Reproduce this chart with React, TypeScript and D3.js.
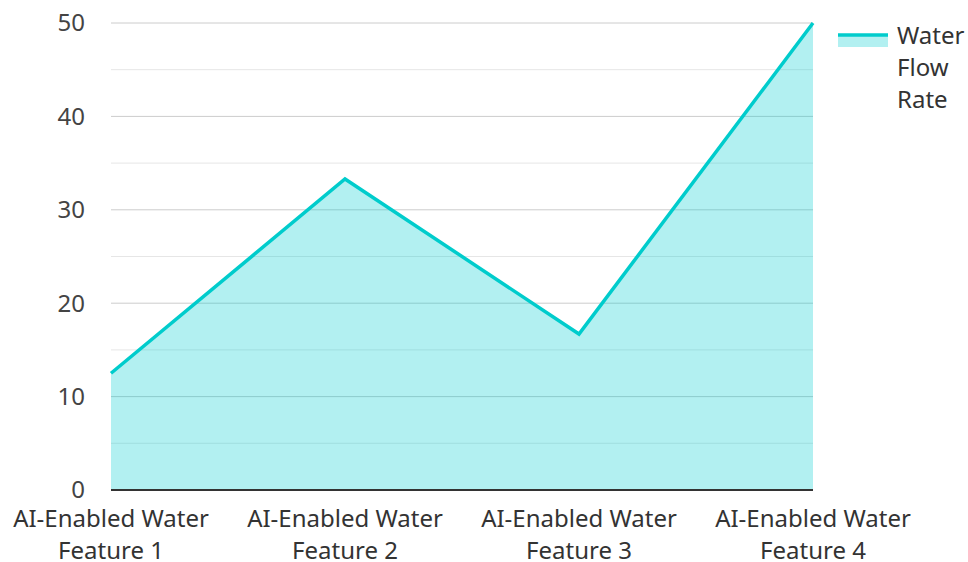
import { useEffect, useRef } from 'react';
import * as d3 from 'd3';

const categories = [
  'AI-Enabled Water Feature 1',
  'AI-Enabled Water Feature 2',
  'AI-Enabled Water Feature 3',
  'AI-Enabled Water Feature 4',
];
const flowRate = [12.5, 33.3, 16.7, 50];
const yTicks = [0, 10, 20, 30, 40, 50];
const yMinorTicks = [5, 15, 25, 35, 45];
const seriesName = 'Water Flow Rate';

const LINE = '#00cccc';
const FILL = 'rgba(0, 206, 209, 0.3)';
const FONT = '"Noto Sans", "Open Sans", sans-serif';

export default function App() {
  const svgRef = useRef<SVGSVGElement>(null);

  useEffect(() => {
    if (!svgRef.current) return;
    const width = 968;
    const height = 562;
    const margin = { top: 23, right: 155, bottom: 72, left: 111 };
    const innerW = width - margin.left - margin.right;
    const innerH = height - margin.top - margin.bottom;

    d3.select(svgRef.current).selectAll('*').remove();
    const svg = d3.select(svgRef.current)
      .attr('width', width)
      .attr('height', height)
      .style('font-family', FONT);

    const g = svg.append('g')
      .attr('transform', `translate(${margin.left},${margin.top})`);

    const x = d3.scalePoint<string>()
      .domain(categories)
      .range([0, innerW])
      .padding(0);

    const y = d3.scaleLinear()
      .domain([0, 50])
      .range([innerH, 0]);

    // Grid
    g.selectAll('.minor')
      .data(yMinorTicks)
      .join('line')
      .attr('x1', 0)
      .attr('x2', innerW)
      .attr('y1', d => y(d))
      .attr('y2', d => y(d))
      .attr('stroke', '#e6e6e6')
      .attr('stroke-width', 1);

    g.selectAll('.major')
      .data(yTicks.filter(t => t !== 0))
      .join('line')
      .attr('x1', 0)
      .attr('x2', innerW)
      .attr('y1', d => y(d))
      .attr('y2', d => y(d))
      .attr('stroke', '#cccccc')
      .attr('stroke-width', 1);

    const data = categories.map((c, i) => ({ c, v: flowRate[i] }));

    const area = d3.area<{ c: string; v: number }>()
      .x(d => x(d.c) as number)
      .y0(y(0))
      .y1(d => y(d.v));

    const line = d3.line<{ c: string; v: number }>()
      .x(d => x(d.c) as number)
      .y(d => y(d.v));

    g.append('path')
      .datum(data)
      .attr('fill', FILL)
      .attr('d', area);

    g.append('path')
      .datum(data)
      .attr('fill', 'none')
      .attr('stroke', LINE)
      .attr('stroke-width', 3.5)
      .attr('d', line);

    // Baseline
    g.append('line')
      .attr('x1', 0)
      .attr('x2', innerW)
      .attr('y1', y(0))
      .attr('y2', y(0))
      .attr('stroke', '#333333')
      .attr('stroke-width', 2);

    // Y labels
    g.selectAll('.ylabel')
      .data(yTicks)
      .join('text')
      .attr('x', -26)
      .attr('y', d => y(d))
      .attr('dy', '0.35em')
      .attr('text-anchor', 'end')
      .attr('fill', '#444444')
      .attr('font-size', 24)
      .text(d => d);

    // X labels (two lines)
    const xl = g.selectAll('.xlabel')
      .data(categories)
      .join('text')
      .attr('transform', d => `translate(${x(d)},${innerH + 37})`)
      .attr('text-anchor', 'middle')
      .attr('fill', '#333333')
      .attr('font-size', 24);
    xl.each(function (d) {
      const words = d.split(' ');
      const first = words.slice(0, 2).join(' ');
      const second = words.slice(2).join(' ');
      const t = d3.select(this);
      t.append('tspan').attr('x', 0).attr('y', 0).text(first);
      t.append('tspan').attr('x', 0).attr('y', 32).text(second);
    });

    // Legend
    const lg = svg.append('g').attr('transform', `translate(838,35)`);
    lg.append('rect')
      .attr('x', 0)
      .attr('y', 0)
      .attr('width', 50)
      .attr('height', 12)
      .attr('fill', FILL);
    lg.append('line')
      .attr('x1', 0)
      .attr('x2', 50)
      .attr('y1', 0)
      .attr('y2', 0)
      .attr('stroke', LINE)
      .attr('stroke-width', 3.5);
    const lt = lg.append('text')
      .attr('fill', '#333333')
      .attr('font-size', 24);
    seriesName.split(' ').forEach((w, i) => {
      lt.append('tspan').attr('x', 59).attr('y', 9 + i * 32).text(w);
    });
  }, []);

  return (
    <div style={{ width: 968, height: 562 }}>
      <svg ref={svgRef} style={{ position: 'absolute', left: 0, top: 0 }}></svg>
    </div>
  );
}
